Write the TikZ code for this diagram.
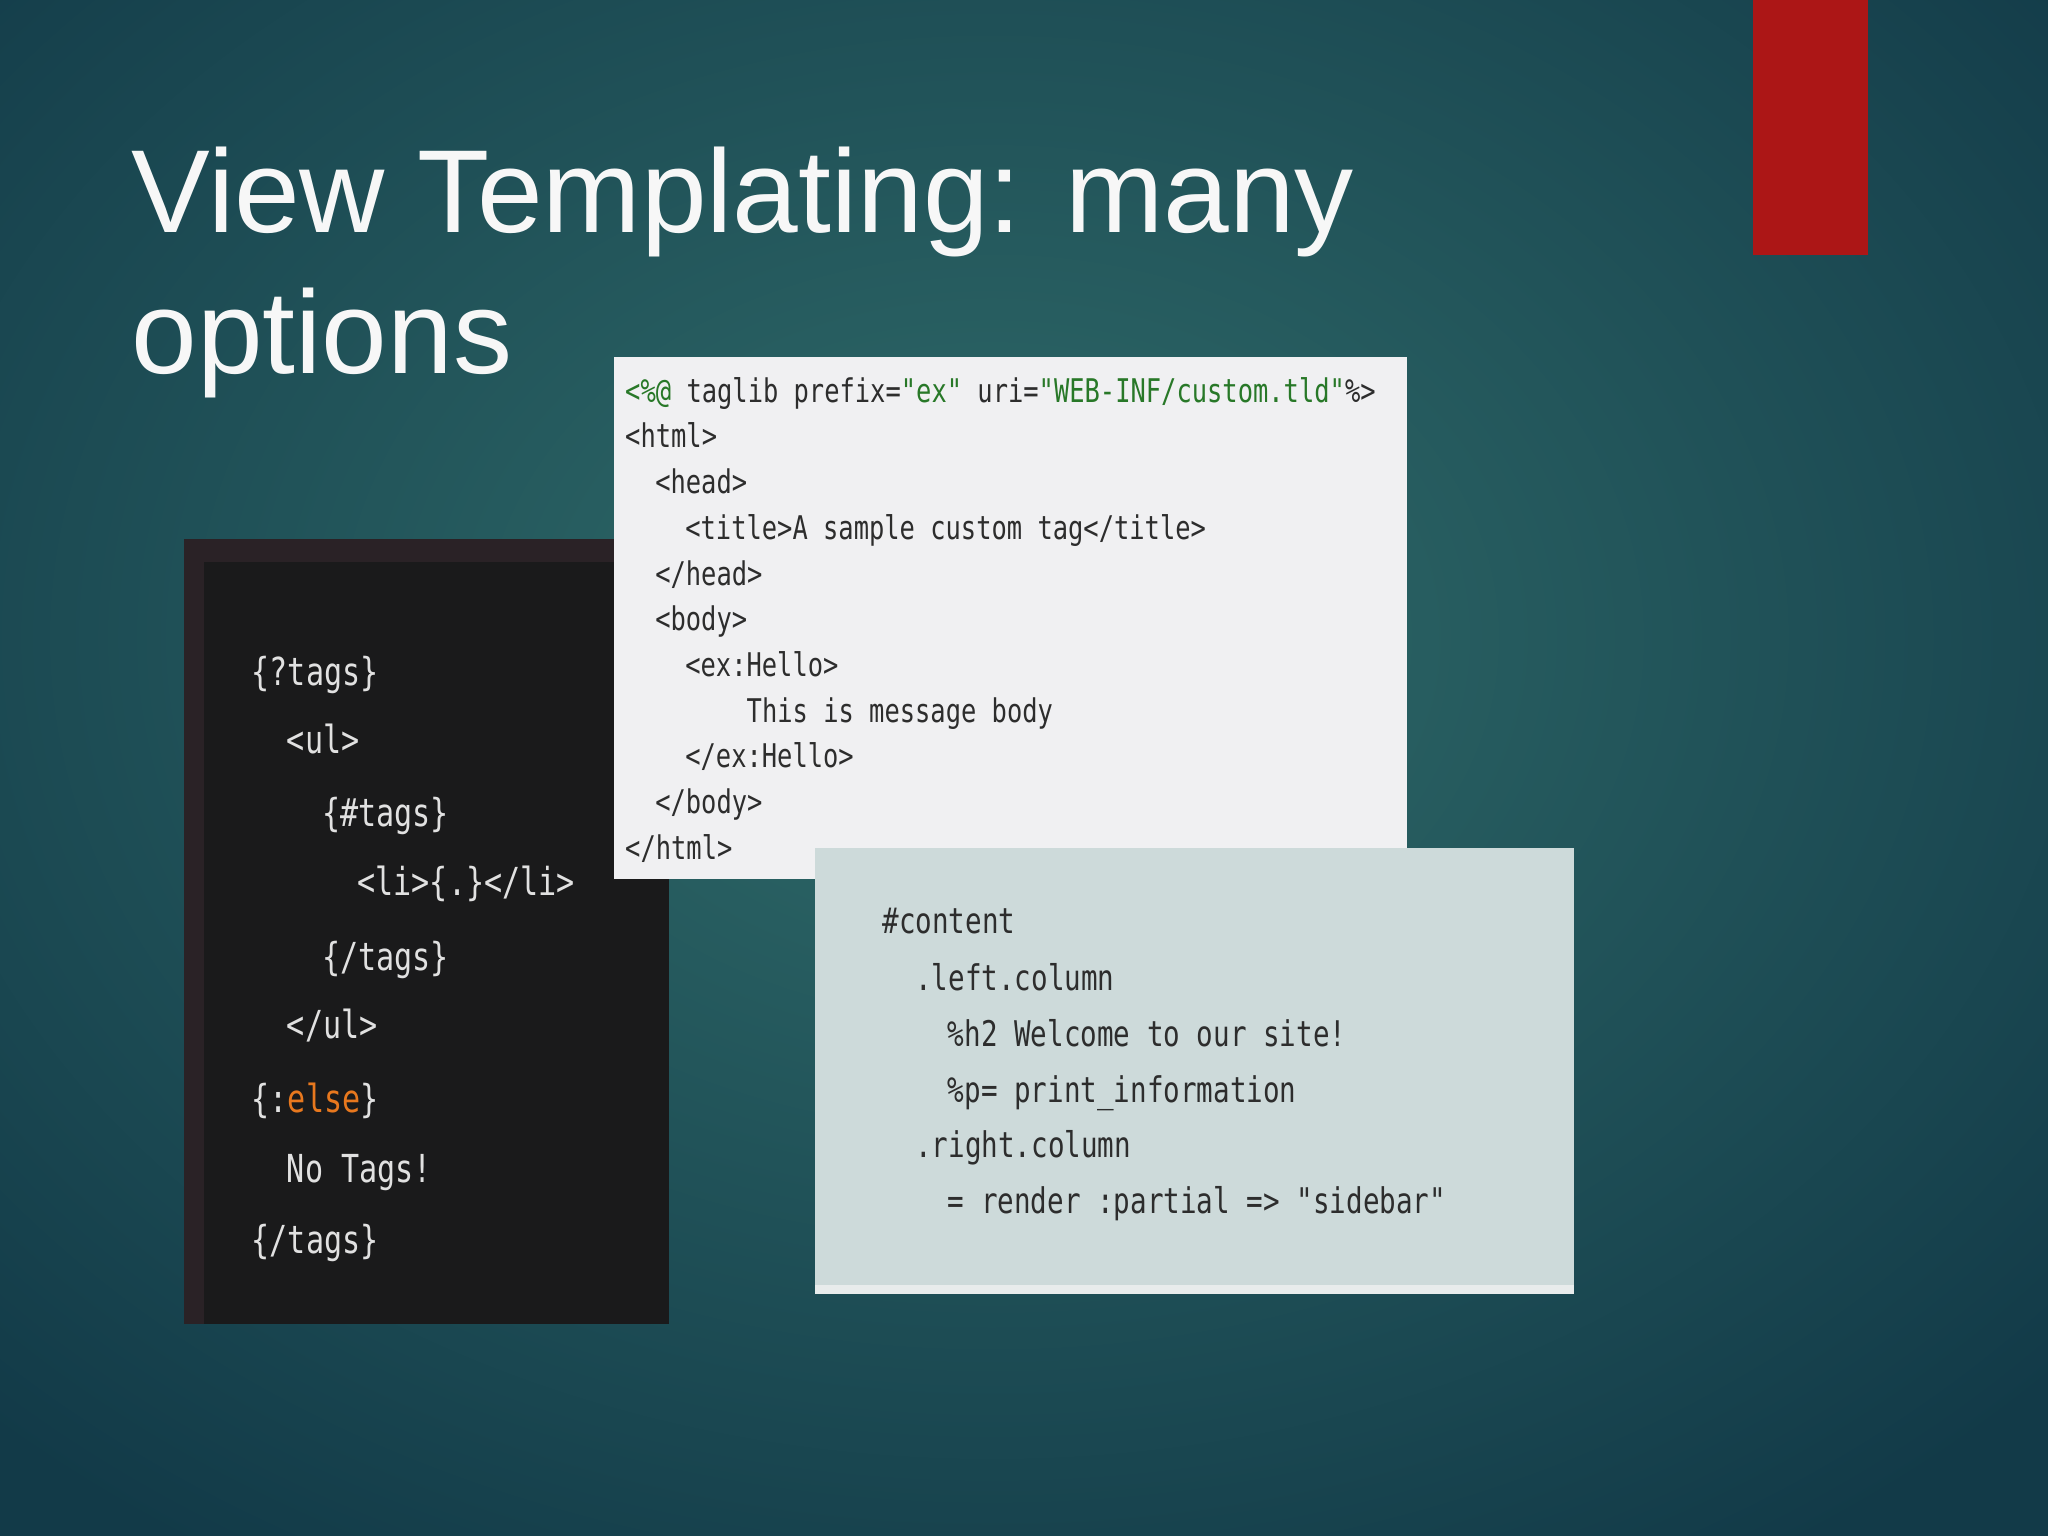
\documentclass[tikz,border=0pt]{standalone}
\usepackage{fontspec}
\setmainfont{Liberation Sans}
\newfontfamily\codefont[FakeStretch=0.78]{DejaVu Sans Mono}
\definecolor{bgin}{RGB}{48,108,106}
\definecolor{bgout}{RGB}{18,58,72}
\definecolor{redbar}{RGB}{172,22,22}
\definecolor{darkbg}{RGB}{26,26,27}
\definecolor{darkframe}{RGB}{42,34,38}
\definecolor{jspbg}{RGB}{240,240,242}
\definecolor{hamlbg}{RGB}{205,218,218}
\definecolor{hamlstrip}{RGB}{232,236,236}
\definecolor{codelight}{RGB}{225,225,225}
\definecolor{codeorange}{RGB}{232,120,30}
\definecolor{codedark}{RGB}{45,45,45}
\definecolor{codegreen}{RGB}{40,120,40}
\tikzset{
 darkcode/.style={anchor=base west,inner sep=0,text=codelight,font=\codefont\fontsize{8.4pt}{10pt}\selectfont},
 jspcode/.style={anchor=base west,inner sep=0,text=codedark,font=\codefont\fontsize{7.1pt}{9pt}\selectfont},
 hamlcode/.style={anchor=base west,inner sep=0,text=codedark,font=\codefont\fontsize{7.7pt}{9pt}\selectfont},
 titletext/.style={anchor=base west,inner sep=0,text=white!94!gray,font=\fontsize{25.7pt}{30pt}\selectfont}
}
\begin{document}
\begin{tikzpicture}[x=0.01cm,y=-0.01cm]
\useasboundingbox (0,0) rectangle (1568,1176);
\shade[inner color=bgin,outer color=bgout] (-350,-350) rectangle (1868,1326);
\fill[redbar] (1342,0) rectangle (1430,195);
\node[titletext] (t1) at (100,178) {View Templating: many};
\node[titletext] (t2) at (100,286) {options};
% dark box
\fill[darkframe] (141,413) rectangle (512,1014);
\fill[darkbg] (156,430) rectangle (512,1014);
\node[darkcode] (d1) at (192,525) {\{?tags\}};
\node[darkcode] (d2) at (219,577) {<ul>};
\node[darkcode] (d3) at (246,633) {\{\#tags\}};
\node[darkcode] (d4) at (273,686) {<li>\{.\}</li>};
\node[darkcode] (d5) at (246,743) {\{/tags\}};
\node[darkcode] (d6) at (219,795) {</ul>};
\node[darkcode] (d7) at (192,852) {\{:\textcolor{codeorange}{else}\}};
\node[darkcode] (d8) at (219,905) {No Tags!};
\node[darkcode] (d9) at (192,960) {\{/tags\}};
% jsp box
\fill[jspbg] (470,273) rectangle (1077,673);
\node[jspcode] (j1) at (478,308) {\textcolor{codegreen}{<\%@} taglib prefix=\textcolor{codegreen}{"ex"} uri=\textcolor{codegreen}{"WEB-INF/custom.tld"}\%>};
\node[jspcode] (j2) at (478,343) {<html>};
\node[jspcode] (j3) at (501,378) {<head>};
\node[jspcode] (j4) at (524,413) {<title>A sample custom tag</title>};
\node[jspcode] (j5) at (501,448) {</head>};
\node[jspcode] (j6) at (501,483) {<body>};
\node[jspcode] (j7) at (524,518) {<ex:Hello>};
\node[jspcode] (j8) at (571,553) {This is message body};
\node[jspcode] (j9) at (524,588) {</ex:Hello>};
\node[jspcode] (j10) at (501,623) {</body>};
\node[jspcode] (j11) at (478,658) {</html>};
% haml box
\fill[hamlstrip] (624,649) rectangle (1205,991);
\fill[hamlbg] (624,649) rectangle (1205,984);
\node[hamlcode] (h1) at (675,715) {\#content};
\node[hamlcode] (h2) at (700,758) {.left.column};
\node[hamlcode] (h3) at (725,801) {\%h2 Welcome to our site!};
\node[hamlcode] (h4) at (725,844) {\%p= print\_information};
\node[hamlcode] (h5) at (700,886) {.right.column};
\node[hamlcode] (h6) at (725,929) {= render :partial => "sidebar"};
\end{tikzpicture}
\end{document}
